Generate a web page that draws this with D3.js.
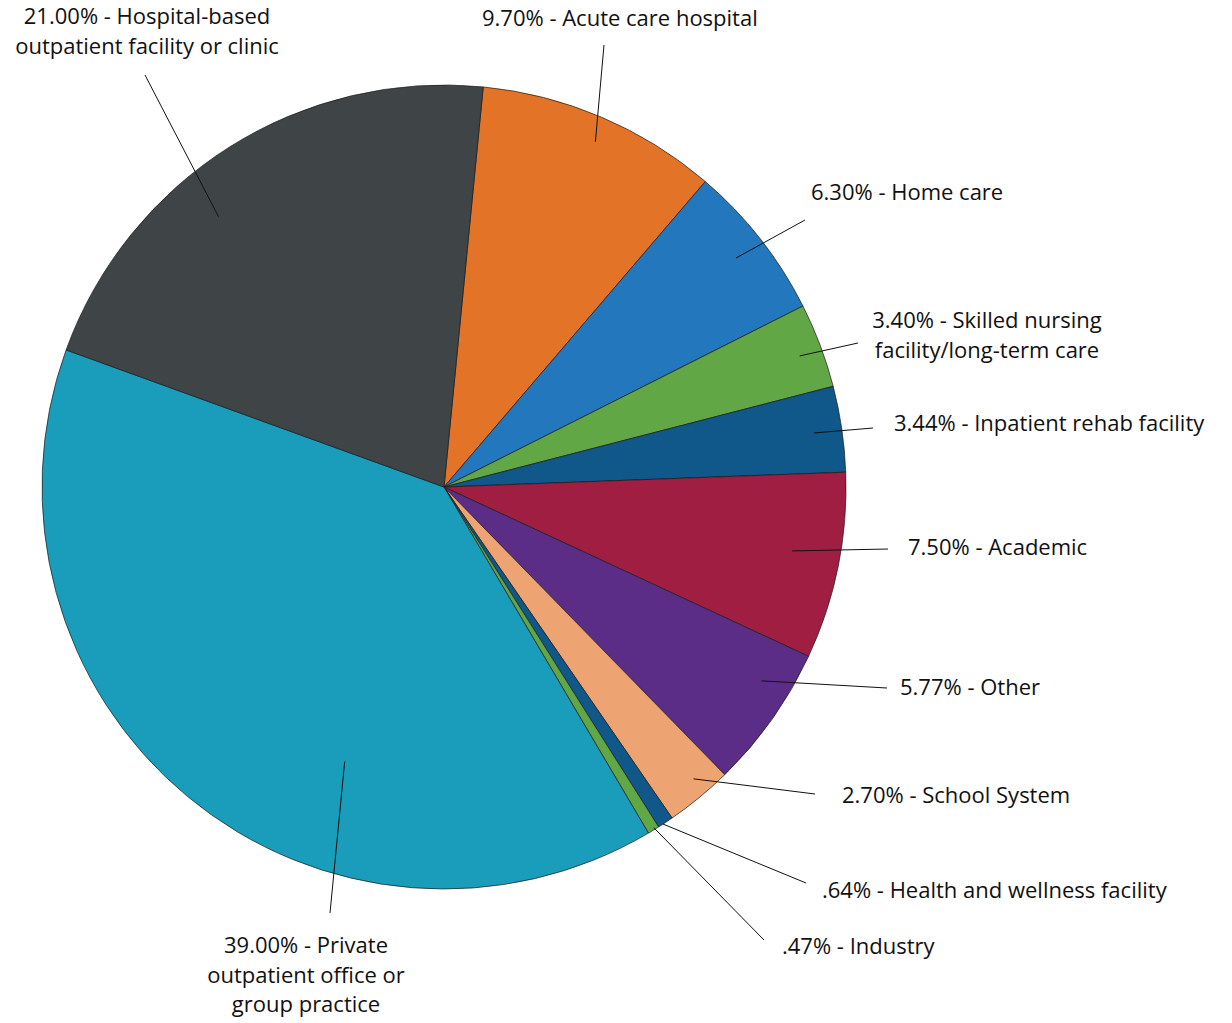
<!DOCTYPE html>
<html>
<head>
<meta charset="utf-8">
<script src="https://cdn.jsdelivr.net/npm/d3@7"></script>
<style>
  body { margin: 0; background: #fff; }
  text { font-family: "Open Sans", "Noto Sans", sans-serif; font-size: 22px; fill: #111; }
</style>
</head>
<body>
<div id="chart"></div>
<script>
var width = 1232,
    height = 1023,
    cx = 444,
    cy = 487,
    radius = 402

// data, clockwise from the top
const categories = [
  "Acute care hospital",
  "Home care",
  "Skilled nursing facility/long-term care",
  "Inpatient rehab facility",
  "Academic",
  "Other",
  "School System",
  "Health and wellness facility",
  "Industry",
  "Private outpatient office or group practice",
  "Hospital-based outpatient facility or clinic"
]
const values = [9.70, 6.30, 3.40, 3.44, 7.50, 5.77, 2.70, 0.64, 0.47, 39.00, 21.00]
const valueLabels = ["9.70%", "6.30%", "3.40%", "3.44%", "7.50%", "5.77%", "2.70%", ".64%", ".47%", "39.00%", "21.00%"]
// how each label is broken onto lines
const labelLines = [
  ["9.70% - Acute care hospital"],
  ["6.30% - Home care"],
  ["3.40% - Skilled nursing", "facility/long-term care"],
  ["3.44% - Inpatient rehab facility"],
  ["7.50% - Academic"],
  ["5.77% - Other"],
  ["2.70% - School System"],
  [".64% - Health and wellness facility"],
  [".47% - Industry"],
  ["39.00% - Private", "outpatient office or", "group practice"],
  ["21.00% - Hospital-based", "outpatient facility or clinic"]
]
const colors = ["#e37427", "#2277bd", "#62a745", "#0f5889", "#a01e41", "#5c2d87",
                "#eea372", "#0f5889", "#62a745", "#199dba", "#3f4546"]

// leader/label placement (relative to pie centre)
// nudge: degrees off the slice middle for the inner end, rIn: its radius
// ox,oy: outer end of the leader, tx,ty: first baseline of the label
const layout = [
  { nudge: 0.6,   rIn: 377, ox: 160,  oy: -442, tx: 38,   ty: -461, anchor: "start" },
  { nudge: 0,     rIn: 371, ox: 361,  oy: -267, tx: 367,  ty: -287, anchor: "start" },
  { nudge: 0.4,   rIn: 379, ox: 414,  oy: -144, tx: 543,  ty: -159, anchor: "middle" },
  { nudge: 0,     rIn: 374, ox: 429,  oy: -59,  tx: 450,  ty: -56,  anchor: "start" },
  { nudge: -1,    rIn: 354, ox: 444,  oy: 62,   tx: 464,  ty: 68,   anchor: "start" },
  { nudge: -3.9,  rIn: 372, ox: 443,  oy: 201,  tx: 456,  ty: 208,  anchor: "start" },
  { nudge: -1.1,  rIn: 384, ox: 371,  oy: 307,  tx: 398,  ty: 316,  anchor: "start" },
  { nudge: 0.4,   rIn: 402, ox: 362,  oy: 396,  tx: 378,  ty: 411,  anchor: "start" },
  { nudge: -0.2,  rIn: 400, ox: 320,  oy: 453,  tx: 338,  ty: 467,  anchor: "start" },
  { nudge: -19.8, rIn: 292, ox: -114, oy: 426,  tx: -138, ty: 466,  anchor: "middle" },
  { nudge: -7.6,  rIn: 352, ox: -299, oy: -412, tx: -297, ty: -463, anchor: "middle" }
]
var lineHeight = 29.5

var svg = d3.select('#chart')
  .append('svg')
  .attr("width", width)
  .attr("height", height)
  .append('g')
  .attr('transform', 'translate(' + cx + ',' + cy + ')')

var start = 5.6 * Math.PI / 180
const pie = d3.pie()
  .sort(null)
  .startAngle(start)
  .endAngle(start + 2 * Math.PI)

const arc = d3.arc()
  .innerRadius(0)
  .outerRadius(radius)

const slices = pie(values)

svg.selectAll('path.slice')
  .data(slices)
  .enter().append('path')
  .attr('class', 'slice')
  .attr('d', arc)
  .style('fill', function (d, i) { return colors[i] })
  .style('stroke', '#1a1a1a')
  .style('stroke-width', 0.7)
  .style('stroke-linejoin', 'round')

// leader lines
svg.selectAll('line.leader')
  .data(slices)
  .enter().append('line')
  .attr('class', 'leader')
  .attr('x1', function (d, i) {
    var a = (d.startAngle + d.endAngle) / 2 + layout[i].nudge * Math.PI / 180
    return Math.sin(a) * layout[i].rIn
  })
  .attr('y1', function (d, i) {
    var a = (d.startAngle + d.endAngle) / 2 + layout[i].nudge * Math.PI / 180
    return -Math.cos(a) * layout[i].rIn
  })
  .attr('x2', function (d, i) { return layout[i].ox })
  .attr('y2', function (d, i) { return layout[i].oy })
  .style('stroke', '#111')
  .style('stroke-width', 1)

// labels
var labels = svg.selectAll('text.label')
  .data(slices)
  .enter().append('text')
  .attr('class', 'label')
  .attr('text-anchor', function (d, i) { return layout[i].anchor })

labels.each(function (d, i) {
  var t = d3.select(this)
  labelLines[i].forEach(function (line, j) {
    t.append('tspan')
      .attr('x', layout[i].tx)
      .attr('y', layout[i].ty + j * lineHeight)
      .text(line)
  })
})
</script>
</body>
</html>
